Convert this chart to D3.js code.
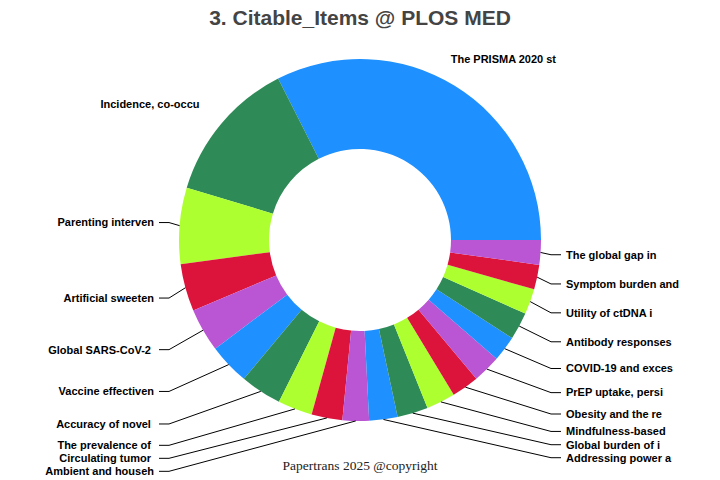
<!DOCTYPE html>
<html>
<head>
<meta charset="utf-8">
<script src="https://cdn.jsdelivr.net/npm/d3@7"></script>
<style>
  body { margin: 0; background: #fff; }
  svg { display: block; }
</style>
</head>
<body>
<svg id="chart"></svg>
<script>
// article titles (already cut to 18 chars in the source chart)
const titles = [
  "The PRISMA 2020 st", "Incidence, co-occu", "Parenting interven", "Artificial sweeten",
  "Global SARS-CoV-2 ", "Vaccine effectiven", "Accuracy of novel ", "The prevalence of ",
  "Circulating tumor ", "Ambient and househ", "Addressing power a", "Global burden of i",
  "Mindfulness-based ", "Obesity and the re", "PrEP uptake, persi", "COVID-19 and exces",
  "Antibody responses", "Utility of ctDNA i", "Symptom burden and", "The global gap in "
];
// slice sizes
const values = [
  116.9, 46.3, 24.5, 15.2, 14.0, 13.2, 13.3, 11.1, 9.9, 8.5,
  9.1, 9.9, 9.3, 8.8, 9.0, 8.2, 8.8, 8.2, 7.9, 7.9
];
const palette = ["dodgerblue", "seagreen", "greenyellow", "crimson", "mediumorchid"];
const chartTitle = "3. Citable_Items @ PLOS MED";
const footer = "Papertrans 2025 @copyright";

const W = 720, H = 480;
const cx = 360, cy = 240;
const outerR = 181, innerR = 91;

const svg = d3.select("#chart").attr("width", W).attr("height", H);

svg.append("text")
  .attr("x", W / 2).attr("y", 25)
  .attr("text-anchor", "middle")
  .style("font-family", "'Liberation Sans', Arial, sans-serif")
  .style("font-weight", "bold")
  .style("font-size", "21px")
  .style("fill", "#444")
  .text(chartTitle);

const color = d3.scaleOrdinal().domain(d3.range(titles.length)).range(palette);

// counter-clockwise from 3 o'clock
const pie = d3.pie().sort(null).value(d => d)
  .startAngle(Math.PI / 2).endAngle(Math.PI / 2 - 2 * Math.PI);
const arcs = pie(values);
const total = d3.sum(values);

const arc = d3.arc().innerRadius(innerR).outerRadius(outerR);

const g = svg.append("g").attr("transform", `translate(${cx},${cy})`);

g.selectAll("path.slice")
  .data(arcs)
  .join("path")
  .attr("class", "slice")
  .attr("d", arc)
  .attr("fill", (d, i) => color(i));

// label layout
const labels = arcs.map((d, i) => {
  const mid = (d.startAngle + d.endAngle) / 2;
  const right = Math.sin(mid) > 0;
  const r = right ? 214 : 220;
  return {
    i, mid, right,
    big: d.value / total > 0.1,
    y: -r * Math.cos(mid)
  };
});

// push overlapping labels down on each side
[true, false].forEach(side => {
  const list = labels.filter(l => l.right === side && !l.big).sort((a, b) => a.y - b.y);
  for (let k = 1; k < list.length; k++) {
    if (list[k].y < list[k - 1].y + 13) list[k].y = list[k - 1].y + 13;
  }
});

const elbowX = outerR + 10, endX = outerR + 20, textX = outerR + 25;

g.selectAll("polyline.leader")
  .data(labels.filter(l => !l.big))
  .join("polyline")
  .attr("class", "leader")
  .attr("fill", "none")
  .attr("stroke", "#000")
  .attr("stroke-width", 1)
  .attr("points", l => {
    const s = l.right ? 1 : -1;
    const p0 = [outerR * Math.sin(l.mid), -outerR * Math.cos(l.mid)];
    return [p0, [s * elbowX, l.y], [s * endX, l.y]].map(p => p.join(",")).join(" ");
  });

g.selectAll("text.label")
  .data(labels)
  .join("text")
  .attr("class", "label")
  .attr("x", l => l.big ? 274 * Math.sin(l.mid) : (l.right ? textX : -textX))
  .attr("y", l => l.big ? -212 * Math.cos(l.mid) : l.y)
  .attr("dy", "0.35em")
  .attr("text-anchor", l => l.big ? "middle" : (l.right ? "start" : "end"))
  .style("white-space", "pre")
  .style("font-family", "'Liberation Sans', Arial, sans-serif")
  .style("font-weight", "bold")
  .style("font-size", "11px")
  .style("fill", "#000")
  .text(l => titles[l.i]);

svg.append("text")
  .attr("x", W / 2).attr("y", 470)
  .attr("text-anchor", "middle")
  .style("font-family", "'Liberation Serif', 'Times New Roman', serif")
  .style("font-size", "13.5px")
  .style("fill", "#222")
  .text(footer);
</script>
</body>
</html>
